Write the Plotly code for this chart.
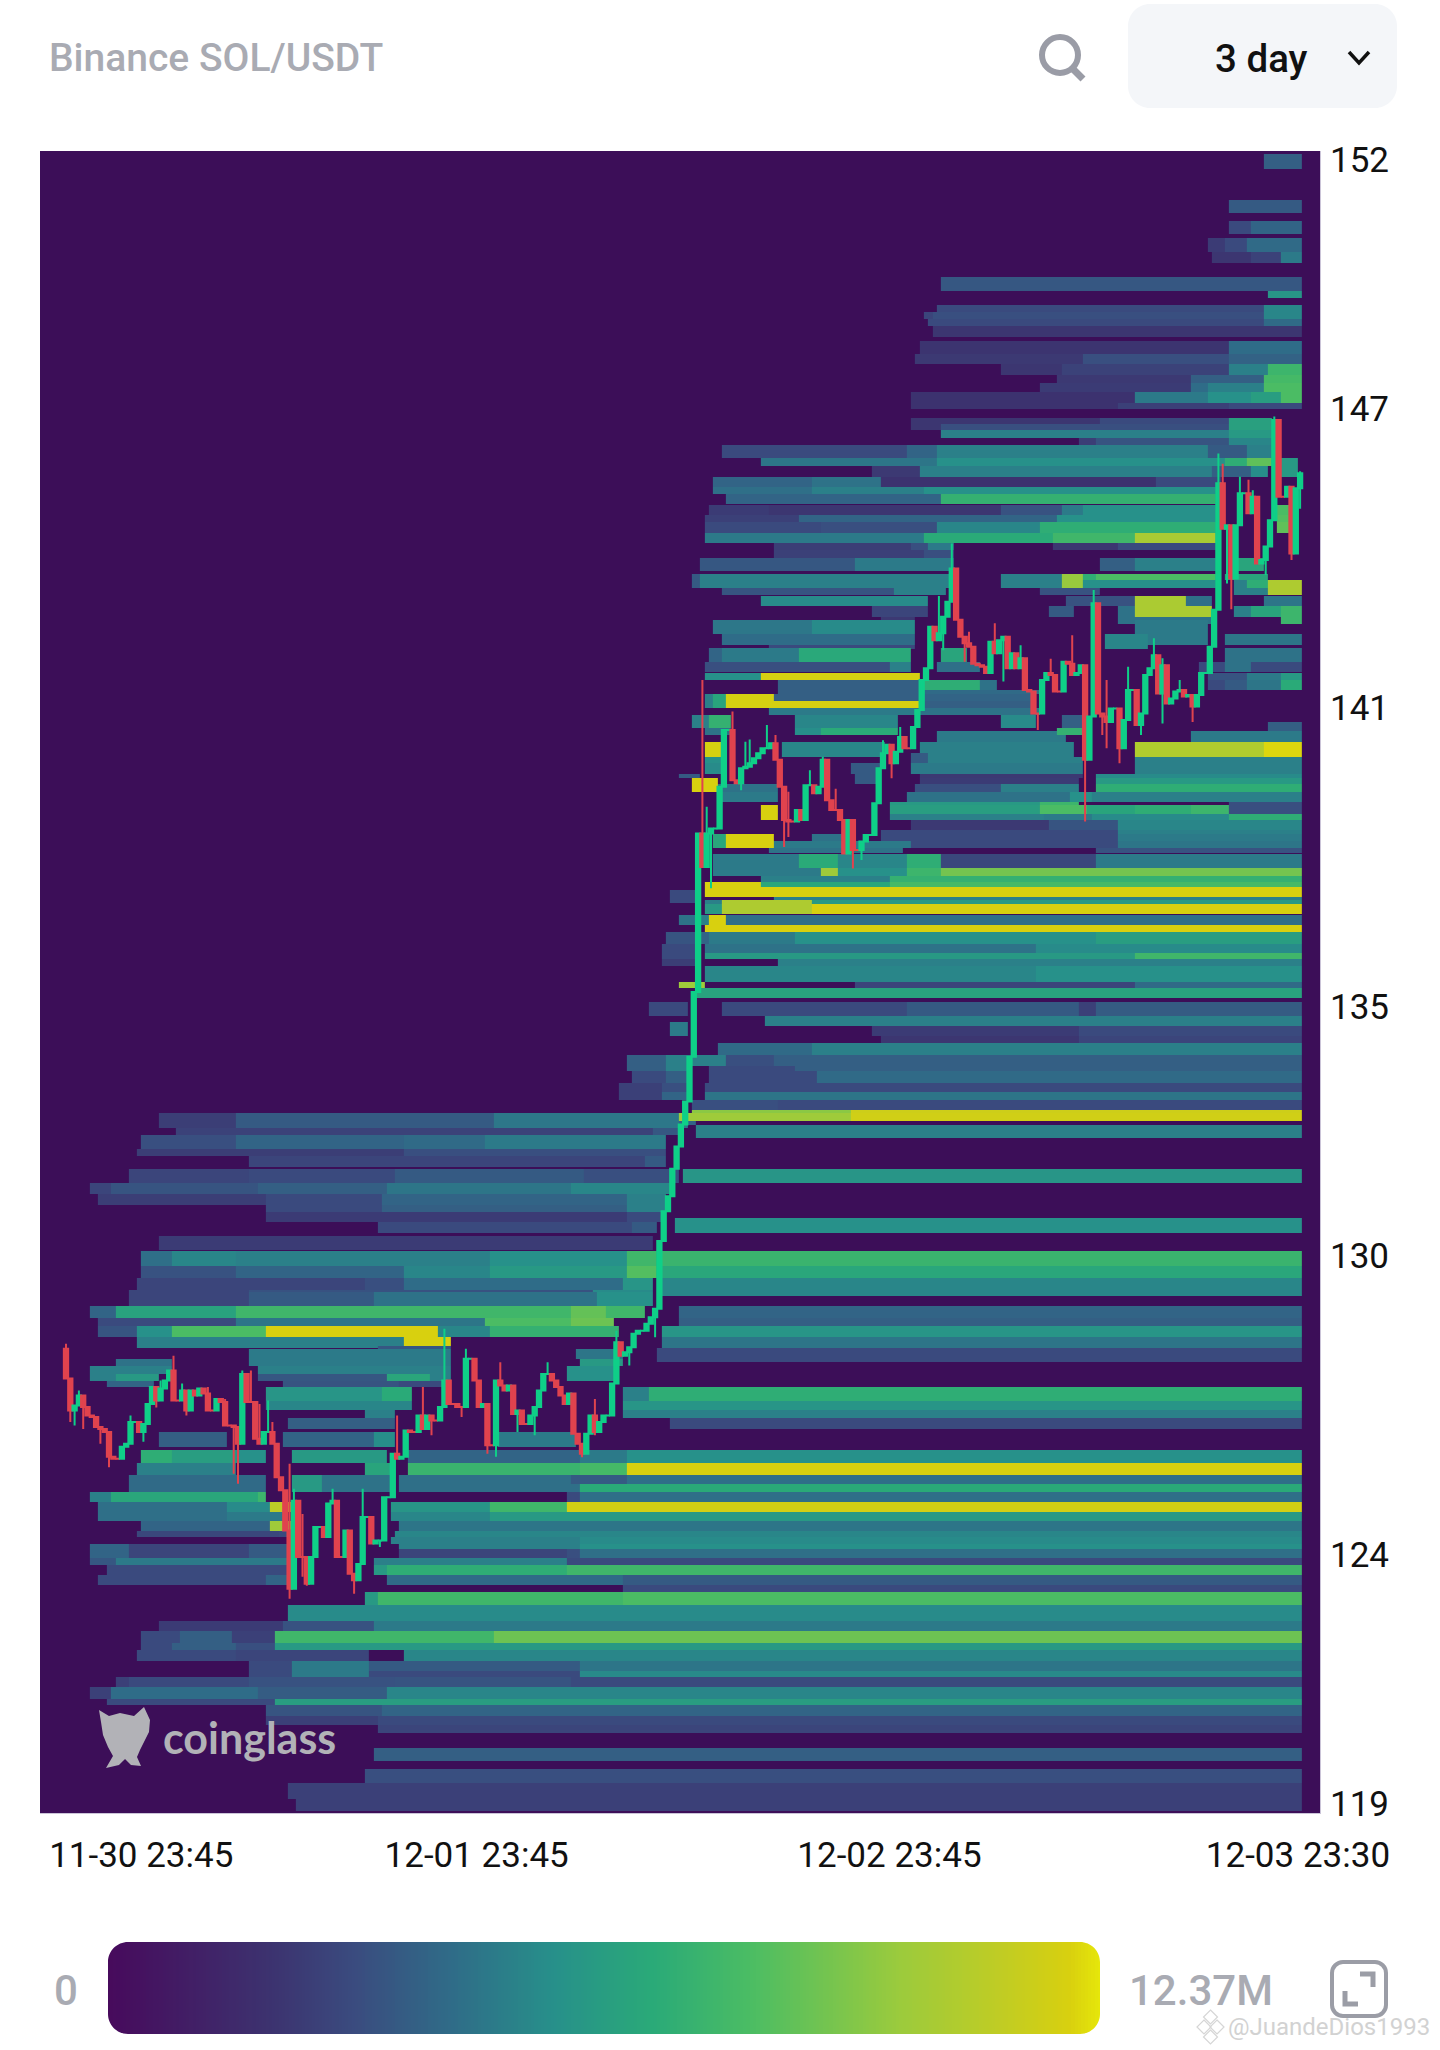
import numpy as np
import plotly.graph_objects as go

W, H = 1440, 2050

closes = [127.54,126.9,127.0,127.2,126.97,126.8,126.77,126.57,126.53,126.47,125.97,125.93,125.93,126.17,126.23,126.67,126.67,126.47,126.63,127.03,127.37,127.1,127.34,127.5,127.7,127.1,127.1,127.3,126.9,127.3,127.2,127.34,127.24,126.9,126.9,127.13,127.07,126.6,126.6,126.57,126.23,127.63,127.07,127.07,126.33,126.23,126.47,126.47,126.23,125.56,125.3,124.49,123.32,125.09,123.96,123.96,123.42,123.96,124.56,124.56,124.36,125.03,125.09,123.96,123.96,124.49,123.62,123.49,123.82,124.76,124.76,124.23,124.29,124.29,125.16,125.16,126.03,125.93,125.97,126.5,126.47,126.47,126.8,126.53,126.8,126.7,126.7,126.97,127.5,127.03,127.03,126.97,126.97,127.94,127.94,127.5,126.97,127.03,126.2,126.2,127.5,127.4,127.3,127.4,126.83,126.9,126.63,126.63,126.8,126.97,127.3,127.63,127.63,127.5,127.37,127.2,127.03,127.24,126.43,126.23,126.03,126.43,126.8,126.47,126.67,126.8,126.8,127.44,128.27,128.0,128.07,128.17,128.44,128.5,128.5,128.64,128.77,128.94,
130.3,130.9,131.2,131.75,132.2,132.64,133.1,134.0,135.3,
138.48,137.81,138.48,138.58,138.58,139.42,140.56,140.56,139.55,139.49,139.79,139.82,139.89,139.99,140.09,140.19,140.19,140.29,139.96,139.42,138.75,138.72,138.72,138.95,138.75,139.45,139.45,139.29,139.42,139.96,139.15,138.95,138.95,138.75,138.08,138.75,138.15,138.15,138.32,138.45,138.45,139.09,139.79,140.09,140.26,139.89,140.12,140.42,140.19,140.19,140.62,140.96,141.56,141.8,142.63,142.36,142.5,142.83,143.13,143.8,142.77,142.43,142.3,142.23,141.89,141.86,141.83,141.7,142.33,142.1,142.36,142.43,141.8,142.1,141.8,142.0,141.36,141.33,140.89,140.89,141.56,141.7,141.66,141.33,141.33,141.93,141.89,141.66,141.7,141.86,139.96,140.83,143.1,140.89,140.83,140.72,140.99,140.99,140.19,140.76,141.36,141.36,140.66,140.89,141.66,141.8,142.06,141.29,141.86,141.09,141.19,141.33,141.36,141.23,141.26,141.03,141.26,141.7,141.7,142.23,142.97,145.51,144.6,144.67,143.6,144.67,145.31,145.31,144.91,145.24,143.9,143.97,144.24,144.77,146.78,145.24,145.24,145.44,144.1,145.41,145.71]
first_open = 128.14

high_bins = [0,3,15,22,25,27,33,37,41,43,45,47,48,52,53,55,62,69,77,83,88,93,101,112,123,128,148,149,155,158,159,163,165,168,173,176,179,190,194,203,206,210,216,222,229,234,239,242,247,253,255,259,268,269,273,275,276,281,287]
high_vals = [128.24,127.3,126.8,127.5,128.0,127.44,127.37,127.13,127.7,127.7,127.03,127.1,126.67,125.83,125.33,124.82,125.33,125.33,126.8,127.37,128.54,128.14,127.87,127.87,127.13,128.5,141.56,139.02,140.93,140.32,140.37,140.66,140.46,139.32,139.75,140.02,139.38,140.35,140.62,143.25,144.3,142.53,142.7,142.26,141.99,142.46,143.37,141.56,141.83,142.4,142.0,141.56,146.11,145.9,145.64,145.58,145.37,146.85,145.75]
low_bins = [1,2,4,8,10,18,21,28,39,40,52,55,56,67,73,85,92,98,100,105,109,120,123,131,137,150,157,167,168,183,185,192,204,209,218,226,237,241,242,245,250,255,262,270,271,279,285,287]
low_vals = [126.67,126.6,126.53,126.23,125.76,126.27,126.96,126.8,125.63,125.43,123.12,123.56,123.38,123.22,124.16,126.4,126.77,126.03,125.97,126.47,126.4,125.96,126.4,127.8,128.37,137.38,139.35,138.21,138.41,137.78,137.95,139.59,142.16,141.93,141.53,140.56,138.72,140.46,140.19,139.89,140.46,140.69,140.72,143.5,142.98,143.67,143.97,145.0]

band_top = [152.12,151.20,150.78,150.44,150.15,149.66,149.37,149.09,148.94,148.80,148.67,148.37,148.10,147.90,147.68,147.53,147.34,147.13,146.83,146.70,146.58,146.41,146.28,146.01,145.86,
145.64,145.44,145.29,145.07,144.87,144.74,144.52,144.32,144.17,144.02,143.69,143.57,143.40,143.25,143.05,142.83,142.76,142.49,142.26,142.20,141.93,141.71,141.56,141.37,141.29,141.14,141.0,140.86,140.72,140.6,140.53,140.45,140.31,140.09,140.02,139.89,139.68,139.6,139.47,139.32,139.12,139.05,138.88,138.75,138.55,138.48,138.33,138.2,138.07,137.78,137.63,137.5,137.41,137.21,137.35,137.14,137.06,136.84,136.65,
136.51,136.27,136.09,135.96,135.83,135.51,135.38,135.1,134.81,134.69,134.61,134.41,134.27,134.03,133.82,133.72,133.48,133.29,133.14,132.94,132.87,132.71,132.64,132.57,132.43,132.37,132.15,132.01,131.75,131.47,131.25,131.03,130.89,130.76,130.68,130.4,130.11,129.79,129.55,129.32,129.27,129.19,129.0,128.75,128.6,128.37,128.2,128.15,128.14,127.94,127.8,127.64,127.5,127.37,127.1,126.9,126.74,126.47,126.1,125.85,125.6,125.42,125.26,125.06,124.86,124.69,124.49,124.36,124.21,124.12,123.94,123.79,123.59,123.39,123.26,123.0,122.68,122.47,122.23,122.1,121.88,121.67,121.56,121.34,121.11,120.98,120.76,120.58,120.12,119.7,119.43,119.11]
band_bottom = [151.82,150.93,150.51,150.15,149.94,149.37,149.23,148.94,148.80,148.67,148.45,148.10,147.90,147.68,147.53,147.34,147.13,147.00,146.70,146.58,146.41,146.28,146.01,145.86,145.64,
145.44,145.29,145.09,144.87,144.74,144.52,144.32,144.17,144.02,143.75,143.57,143.40,143.27,143.05,142.83,142.68,142.49,142.26,142.18,141.93,141.73,141.56,141.37,141.29,141.14,141.0,140.86,140.72,140.6,140.53,140.45,140.31,140.09,140.02,139.89,139.68,139.6,139.47,139.32,139.12,139.05,138.88,138.75,138.55,138.48,138.33,138.2,138.08,137.78,137.63,137.5,137.41,137.21,137.14,137.08,137.06,136.86,136.65,136.51,
136.27,136.09,135.96,135.83,135.51,135.38,135.18,134.81,134.69,134.61,134.41,134.27,134.03,133.82,133.72,133.48,133.29,133.14,132.94,132.87,132.71,132.64,132.57,132.43,132.37,132.15,132.01,131.79,131.47,131.25,131.03,130.89,130.68,130.47,130.47,130.13,129.79,129.55,129.32,129.27,129.19,129.0,128.75,128.6,128.37,128.15,128.14,127.87,127.94,127.8,127.64,127.5,127.37,127.1,126.9,126.74,126.52,126.16,125.85,125.6,125.42,125.26,125.06,124.86,124.69,124.49,124.36,124.21,124.12,123.94,123.79,123.59,123.39,123.26,123.0,122.68,122.47,122.23,122.1,121.88,121.67,121.56,121.34,121.11,120.98,120.76,120.58,120.42,119.86,119.43,119.11,118.87]
band_starts = [[279],[271],[271,276],[266,270,275],[267,276,283],[204],[280],[203,279],[200,202,279],[201,279],[202],[199,271],[198,237,271],[218,232,271,280],[231,262,279],[227,262,266,279],[197,249,266,276,283],[197,245,271],[197,241,271,281],[197,204,271,281],[204,271,281],[236,240,271,281],[153,196,203,266,275,281],[162,203,270,275,281,283,287],[188,199,267,276,280,283,287],
[151,174,190,254,269],[151,174,200,268],[154,204,268],[150,164,218,232,237,268,282,285],[149,171,231,268,282,285],[149,176,203,227,268,282,285],[149,200,230,249,268],[165,197,201,207,230,245,268],[165,200,207],[148,184,207,241,249,268,271,279],[146,148,207,218,232,237,240,268,270,280],[146,148,207,218,232,237,268,272,275,280],[153,193,205,227,241,272,280],[162,201,233,249,261,267,279],[188,201,229,235,245,249,267,272,276,283],[190,198,245,268,283],[151,174,198,249,266],[153,198,242,252,266,270],[164,198,242,252],[150,153,171,197,204,210,270],[149,192,197,203,213,264,270,276],[149,162,199,266,275,283],[166,200,213,217,266,270,275,283],[166,200,227],[149,151,154,165,199,226],[149,151,154,199,225],[164,198,227],[146,150,155,170,194,218,226,232,237],[146,150,155,170,194,218,226,232,237,280],[149,155,170,176,194,231,237,280],[149,155,170,176,194,203,231,237,262],[203,233,262],[149,153,167,191,199,235,249,279],[149,153,167,191,197,201,235,249,279],[149,153,197,201,237,249],[149,153,183,190,197,237,249],[143,148,184,190,199,237,240],[146,152,184,189,199,236,240],[146,152,166,198,218,236,240],[153,166,196,234,239],[192,227,236,271],[162,166,192,227,238,249,262,271],[162,166,192,228,239,271],[197,229,245],[190,245],[151,154,165,174,181,190,245],[151,154,165,197,245],[164,195,240],[151,171,180,196,204,240],[151,176,180,196,204],[162,192],[149,162,192],[149],[165],[141,147],[149,153,174],[149,153,174],[143,148,150,154],[149],
[140,148,150,170,240],[139,148,149,226],[139,148,149,249],[139,148,166],[149,226],[143,149,184,249],[147],[136,145,153,196,236,240],[163],[141,145,163],[141,145,188,236],[190,236],[152,174],[131,140,154,165],[131,140,145,150,170],[132,140,145,150,175],[129,139,146,149],[129,139,146,149],[146,166],[146,183],[22,40,100,143,183],[22,40,100,143,147],[22,40,100,145,147],[26,137,143,147],[18,40,79,98,140,147],[18,40,79,98,140],[17,79,140],[43,135,140],[15,43,77,121,143,144],[6,11,45,75,118,142],[8,47,74,131,140],[47,74,131,140],[47,131,139],[142],[73,132,138],[22,137],[18,25,40,99,131,138,139],[18,40,79,99,131,138,139],[17,70,79,130,137,139],[15,43,123,137,139],[15,43,72,124,137,139],[15,43,72,124,137],[6,12,40,118,126,135,143],[8,40,98,118,128,143],[8,17,25,47,87,99,129,139],[17,79,90,139],[73,90],[138],[43,90,119,130],[12,25,43,90,120,130],[6,25,45,90,117,129],[6,12,22,45,75,85,90,117,129],[10,21,51,78,90],[47,74,81,130,136],[47,81,130],[70,77,130],[52,77,141],[22,38,51,72,77,101,119],[18,25,40,47,53,75,80,120,131],[17,40,70,77,80,120,131],[15,47,53,60,77,78,118,131],[15,47,53,60,77,78,120],[6,11,45,47,117,120],[8,38,48,53,76,99,117],[8,38,52,76,99],[18,48,53,78],[17,50,53,77],[76,120],[6,15,43,52,78,120],[6,15,43,52,78,117,120],[6,12,52,72,117],[10,52,72,75,117],[8,47,52,75,130],[130],[70,73,130],[52],[22,51,72],[18,27,39,49,100],[18,25,40,49],[17,40,71,79],[43,53,71,120],[43,53,71,120],[12,15,43,77,118],[6,11,45,75],[10,49],[47,74],[47,73],[73],[72],[70],[52],[54]]
band_levels = [[3.8],[3.6],[3.0,4.0],[2.4,3.0,4.2],[2.2,2.7,4.8],[3.5],[5.8],[3.0,5.2],[2.8,3.2,5.2],[3.0,4.2],[2.2],[2.1,4.3],[2.3,3.2,3.9],[2.2,2.7,5.0,7.5],[2.3,3.8,7.8],[2.4,4.3,5.0,8.0],[2.0,4.8,5.6,6.2,8.0],[2.0,2.6,3.0],[2.2,3.0,6.3,0],[2.2,3.2,6.3,0],[5.0,6.0,0],[2.5,3.4,5.2,0],[3.0,4.0,5.0,3.6,5.0,0],[4.6,5.6,7.0,8.5,0,6.0,0],[2.3,5.0,3.8,5.5,0,6.0,0],
[4.0,4.5,2.0,3.0,0],[4.4,5.0,5.6,0],[4.0,7.2,0],[2.4,2.2,3.3,4.8,5.6,0,8.0,0],[2.6,4.0,5.6,0,8.2,0],[3.0,3.2,5.2,7.0,0,8.5,0],[4.8,6.8,7.6,10.3,0],[2.5,3.2,4.8,0,2.2,3.0,0],[2.6,3.2,0],[3.5,4.8,0,3.8,5.0,0,6.5,0],[3.6,5.0,0,5.0,9.8,7.0,8.0,0,6.5,0],[3.6,5.0,0,5.0,9.8,5.6,0,5.0,7.0,10.5],[3.4,5.0,0,3.3,0,5.0,10.5],[5.4,0,3.3,10.4,4.4,0,4.6],[2.8,0,3.6,0,4.5,10.4,0,5.0,6.5,7.5],[2.3,0,4.5,0,7.5],[4.7,5.4,0,4.8,0],[4.3,0,5.2,4.8,0,4.6],[3.0,0,5.2,0],[4.0,4.8,6.7,0,6.5,0,4.5],[3.2,5,0,4.4,0,3.0,4.5,3.0],[5.6,11.9,0,3.4,4.8,6.0],[3.8,7.0,4.5,0,3.0,3.6,4.6,6.8],[3.8,4.2,0],[5.0,6.5,11.9,3.8,4.0,0],[5,6.5,11.9,3.8,0],[4.8,4.5,0],[5,7.2,0,5.2,0,5.4,0,3.8,0],[5,7.2,0,5.2,0,5.4,0,3.8,0,3.8],[4.5,0,5.5,6.8,0,7.2,0,3.8],[4.5,0,5.5,6.8,0,4.8,7.2,0,4.8],[4.8,0,4.8],[11.9,0,5.2,0,5.0,0,10.6,12.1],[11.9,0,5.2,0,3.6,5,0,10.6,12.1],[5.6,0,3.6,5,0,5.0],[5.4,0,3.6,0,4.8,0,5.0],[3.6,0,3.6,0,2.3,0,5.4],[12,0,3.6,0,2.4,0,6.0],[12,4.5,0,3.2,5,0,7.0],[4.8,0,4.5,5.6,5.0],[6,7.5,0,3.2],[12,0,6.2,8,6.5,7.0,7.5,3.2],[12,0,5,4.8,5.4,7.0],[2.3,3.4,5.2],[3.0,5],[6.6,12,0,4.5,0,3.0,4.8],[6.6,12,4.8,3.0,4.6],[4.5,0,3.3],[4.8,6.8,5.2,7.0,2.9,4.8],[4.8,10,5.6,7.5,9.0],[5,7.2],[12,6.6,7.8],[12],[5.0],[3,0],[5,10.5,6],[6,10.5,12],[4.5,5,12,4.4],[12],
[3.4,4,4.8,5.6,6.2],[3,0,4.5,5.4],[3,0,6,7.6],[2.5,0,5.0],[5.2,5.6],[10,0,2.8,4.2],[6.4],[3,0,3,3.6,2.6,3.7],[5.0],[4.8,0,5.0],[4.8,0,2.4,3.0],[2.2,2.8],[4.2,5],[3.8,5,3.2,3.8],[3.8,5,0,3,3.8],[3,3.8,0,3,4.2],[2.6,3.2,0,3],[2.6,4.0,0,4.6],[3.2,3],[9.5,11.6],[2.5,3.6,4.7,10,11.7],[2.5,3.6,4.7,4,0],[2.5,3.6,4.7,0,5],[2.7,3.5,0,5],[3.2,4,4.2,4.8,0,5],[3.2,4,4.2,4.8,0],[2.5,3.2,0],[2.8,3.6,0],[2.8,3,3.6,3.2,0,5.8],[2.8,3.4,3.8,4.6,5.2,0],[2.5,3,4,5,0],[3,3.8,5,0],[2.4,3,0],[5.6],[3,3.6,0],[2.4,0],[4.4,5.2,5.0,5.6,7.6,0,7.4],[3.3,4,5.2,6,8.2,0,6.6],[2.8,3.2,4.3,5.8,0,5.2],[2.8,3.3,5.4,0,5.2],[2.8,3.6,4.5,5.6,0,5.2],[2.8,3.6,4.5,5.6,0],[4,6.4,7.6,8.6,7.6,0,4],[3,4.6,8,8.8,0,3.8],[3.4,5.6,8,12,5.2,7.2,0,5.8],[5,12,0,4.6],[3.5,0],[3.0],[4.8,0,4.6,0],[4.5,0,4.8,0,6.0,0],[5,0,5,0,5.6,0],[5,6,0,3.5,6.6,5,0,5.6,0],[4,0,3.4,3,0],[5.8,6.8,0,5.0,7.0],[5.2,0,5.8],[5,0,5.0],[3.8,0,3],[3.8,0,4,5.5,0,4.8,0],[7,6.2,5.6,0,6,0,4,4.8,5.6],[5,0,6.5,0,7.4,7.8,12],[4.2,0,6,4.5,0,4.4,3.6,4.4],[4.2,0,6,4.5,0,4.4,6.8],[5,6.6,7.5,0,3,4.4],[4.4,5.4,11,0,5.8,7.6,11.8],[4.4,4.8,0,5.2,6],[4,10,0,4.6],[2.9,3,0,5.2],[5.0,5.4],[4,2.8,3.6,0,5,5.6],[4,2.8,3.6,0,2.8,3.2,4.4],[3.5,4.8,0,5,3],[3,0,6,7,7.6],[3,4,0,4.2,3.6],[3],[6,7.6,8],[5.4],[2.4,3.3,4.8],[3,3.8,2.6,7.6,8.8],[3,3.8,3.2,6],[3,2.8,0,5.2],[3,4.8,3.6,4.6],[3,4.8,3,5.4],[2.6,3,3.3,3.4,3],[2.6,4.3,3.7,5.2],[3,6.2],[3.4,4],[2.6,3],[2.8],[3.8],[3.2],[2.6],[2.6]]

price_ticks = [152, 147, 141, 135, 130, 124, 119]
time_tick_bins = [17.5, 95.5, 191.5, 286.5]
time_tick_labels = ["11-30 23:45", "12-01 23:45", "12-02 23:45", "12-03 23:30"]
scale_max = 12.37

GRAY = "#a9abb3"
BG = "#3c0e58"
tail = [[0.17, "#3c3470"], [0.25, "#3a4c7f"], [0.35, "#2f6d88"], [0.45, "#27908a"],
        [0.55, "#2aaa78"], [0.65, "#4cbd63"], [0.8, "#9ccb3c"], [0.9, "#c0cc24"], [0.97, "#d8d00f"], [1, "#e6e60a"]]
stops = [[0, BG]] + tail
bar_stops = [[0, "#470a5c"]] + tail

N = len(closes)
x_bins = np.arange(N)
edges = sorted(set(band_top) | set(band_bottom))
z = np.zeros((len(edges) - 1, N))
for top, bot, starts, levels in zip(band_top, band_bottom, band_starts, band_levels):
    r0, r1 = edges.index(bot), edges.index(top)
    ends = list(starts[1:]) + [N]
    for s, e, v in zip(starts, ends, levels):
        if v > 0:
            z[r0:r1, s:e] = v
z = np.where(z == 0, np.nan, z)

opens = [first_open] + closes[:-1]
highs = [max(o, c) for o, c in zip(opens, closes)]
lows = [min(o, c) for o, c in zip(opens, closes)]
for b, v in zip(high_bins, high_vals):
    if b < N:
        highs[b] = max(highs[b], v)
for b, v in zip(low_bins, low_vals):
    if b < N:
        lows[b] = min(lows[b], v)

fig = go.Figure()
fig.add_trace(go.Heatmap(x=x_bins, y=edges, z=z, coloraxis="coloraxis", hoverinfo="skip", xaxis="x", yaxis="y"))
fig.add_trace(go.Candlestick(x=x_bins, open=opens, high=highs, low=lows, close=closes, xaxis="x", yaxis="y",
                             increasing=dict(line=dict(color="#0fcf88", width=2), fillcolor="#0fcf88"),
                             decreasing=dict(line=dict(color="#e0434e", width=2), fillcolor="#e0434e"),
                             whiskerwidth=0, hoverinfo="skip", showlegend=False))
ramp = np.linspace(0, scale_max, 300)
fig.add_trace(go.Heatmap(x=ramp, y=[0, 1], z=[ramp, ramp], coloraxis="coloraxis2", hoverinfo="skip", xaxis="x2", yaxis="y2"))


def px(x):
    return x / W


def py(y):
    return 1 - y / H


def path(points, close=False):
    s = "M " + " L ".join(f"{px(a):.5f} {py(b):.5f}" for a, b in points)
    return s + (" Z" if close else "")


def rounded(x0, y0, x1, y1, r):
    k = 0.45 * r
    pts = [(x0 + r, y0), (x1 - r, y0), ("C", x1 - k, y0, x1, y0 + k, x1, y0 + r), (x1, y1 - r),
           ("C", x1, y1 - k, x1 - k, y1, x1 - r, y1), (x0 + r, y1),
           ("C", x0 + k, y1, x0, y1 - k, x0, y1 - r), (x0, y0 + r), ("C", x0, y0 + k, x0 + k, y0, x0 + r, y0)]
    out = []
    for i, p in enumerate(pts):
        if p[0] == "C":
            out.append("C " + " ".join(f"{px(p[j]):.5f} {py(p[j+1]):.5f}" for j in (1, 3, 5)))
        else:
            out.append(("M " if i == 0 else "L ") + f"{px(p[0]):.5f} {py(p[1]):.5f}")
    return " ".join(out) + " Z"


def corner_mask(cx, cy, sx, sy, r):
    k = 0.45 * r
    return (f"M {px(cx):.5f} {py(cy):.5f} L {px(cx + sx * r):.5f} {py(cy):.5f} "
            f"C {px(cx + sx * k):.5f} {py(cy):.5f} {px(cx):.5f} {py(cy + sy * k):.5f} {px(cx):.5f} {py(cy + sy * r):.5f} Z")


P = dict(xref="paper", yref="paper")
shapes = []
shapes.append(dict(type="path", path=rounded(1128, 4, 1397, 108, 22), fillcolor="#f4f6f9", line_width=0, layer="below", **P))
shapes.append(dict(type="circle", x0=px(1042), x1=px(1078), y0=py(37), y1=py(73), line=dict(color="#9a9ca6", width=6), **P))
shapes.append(dict(type="path", path=path([(1072, 68), (1083, 79)]), line=dict(color="#9a9ca6", width=7), **P))
shapes.append(dict(type="path", path=path([(1349, 52), (1359, 63), (1369, 52)]), line=dict(color="#111111", width=3.5), **P))
# rounded ends of the scale bar
for cx, cy, sx, sy in [(108, 1942, 1, 1), (1100, 1942, -1, 1), (108, 2034, 1, -1), (1100, 2034, -1, -1)]:
    shapes.append(dict(type="path", path=corner_mask(cx, cy, sx, sy, 20), fillcolor="white", line_width=0, layer="above", **P))
# expand icon
shapes.append(dict(type="path", path=rounded(1332, 1962, 1386, 2016, 11), line=dict(color="#9b9da6", width=4), fillcolor="rgba(0,0,0,0)", **P))
shapes.append(dict(type="path", path=path([(1360, 1974), (1373, 1974), (1373, 1987)]), line=dict(color="#9b9da6", width=5), **P))
shapes.append(dict(type="path", path=path([(1345, 1991), (1345, 2004), (1358, 2004)]), line=dict(color="#9b9da6", width=5), **P))
# coinglass mascot
LOGO = "#b2b2b7"
shapes.append(dict(type="path", path=path([(101, 1722), (99, 1710), (109, 1716), (120, 1713), (134, 1716), (144, 1707), (150, 1720), (149, 1732), (144, 1742), (140, 1750), (137, 1757), (141, 1766), (131, 1765), (125, 1759), (119, 1765), (106, 1768), (113, 1756), (108, 1747), (103, 1735)], True), fillcolor=LOGO, line_width=0, **P))
# watermark mark
for d in [(1204, 2027), (1217, 2027), (1210.5, 2017), (1210.5, 2037)]:
    shapes.append(dict(type="path", path=path([(d[0], d[1] - 7), (d[0] + 7, d[1]), (d[0], d[1] + 7), (d[0] - 7, d[1])], True),
                       line=dict(color="#d6d6d6", width=1.2), fillcolor="rgba(0,0,0,0)", **P))


def note(text, x, y, size, color, anchor="left", weight=None, family="Roboto"):
    return dict(text=text, x=px(x), y=py(y), xanchor=anchor, yanchor="middle", showarrow=False,
                font=dict(family=family, size=size, color=color, weight=weight), **P)


annotations = [
    note("Binance SOL/USDT", 47, 58, 39, GRAY, weight=500),
    note("3 day", 1213, 58, 38.5, "#111111", weight=500),
    note("0", 66, 1990, 42, GRAY, "center", weight=500),
    note("12.37M", 1127, 1990, 42, GRAY, weight=500),
    note("coinglass", 161, 1737, 43, LOGO, weight=700, family="Lato"),
    note("@JuandeDios1993", 1226, 2027, 24, "#d2d2d2"),
]

x_range = [(40 - 66) / 4.3, (1320 - 66) / 4.3]
y_range = [118.82, 152.18]
fig.update_layout(
    width=W, height=H, autosize=False, margin=dict(l=0, r=0, t=0, b=0, pad=0, autoexpand=False),
    paper_bgcolor="white", plot_bgcolor=BG, showlegend=False, boxgap=0, boxgroupgap=0,
    coloraxis=dict(colorscale=stops, cmin=0, cmax=scale_max, showscale=False),
    coloraxis2=dict(colorscale=bar_stops, cmin=0, cmax=scale_max, showscale=False),
    xaxis=dict(domain=[px(40), px(1320)], range=x_range, anchor="y", tickmode="array", tickvals=time_tick_bins, automargin=False,
               ticktext=time_tick_labels, ticks="outside", ticklen=11, tickcolor="rgba(0,0,0,0)", showgrid=False, zeroline=False,
               rangeslider=dict(visible=False), tickfont=dict(family="Roboto", size=35, color="#111111"),
               tickangle=0, showline=True, linecolor="#cbc4d8", linewidth=1),
    yaxis=dict(domain=[py(1813), py(151)], range=y_range, anchor="x", side="right", tickmode="array", automargin=False,
               tickvals=price_ticks, ticktext=[str(t) for t in price_ticks], ticks="outside", ticklen=2,
               tickcolor="rgba(0,0,0,0)", showgrid=False, zeroline=False,
               tickfont=dict(family="Roboto", size=35, color="#111111"), showline=True, linecolor="#cbc4d8", linewidth=1),
    xaxis2=dict(domain=[px(108), px(1100)], range=[0, scale_max], anchor="y2", visible=False, automargin=False),
    yaxis2=dict(domain=[py(2034), py(1942)], range=[0, 1], anchor="x2", visible=False, automargin=False),
    shapes=shapes, annotations=annotations,
)
fig.write_html("out.html", config=dict(displayModeBar=False),
               post_script="document.body.style.margin='0';document.body.style.overflow='hidden';")
